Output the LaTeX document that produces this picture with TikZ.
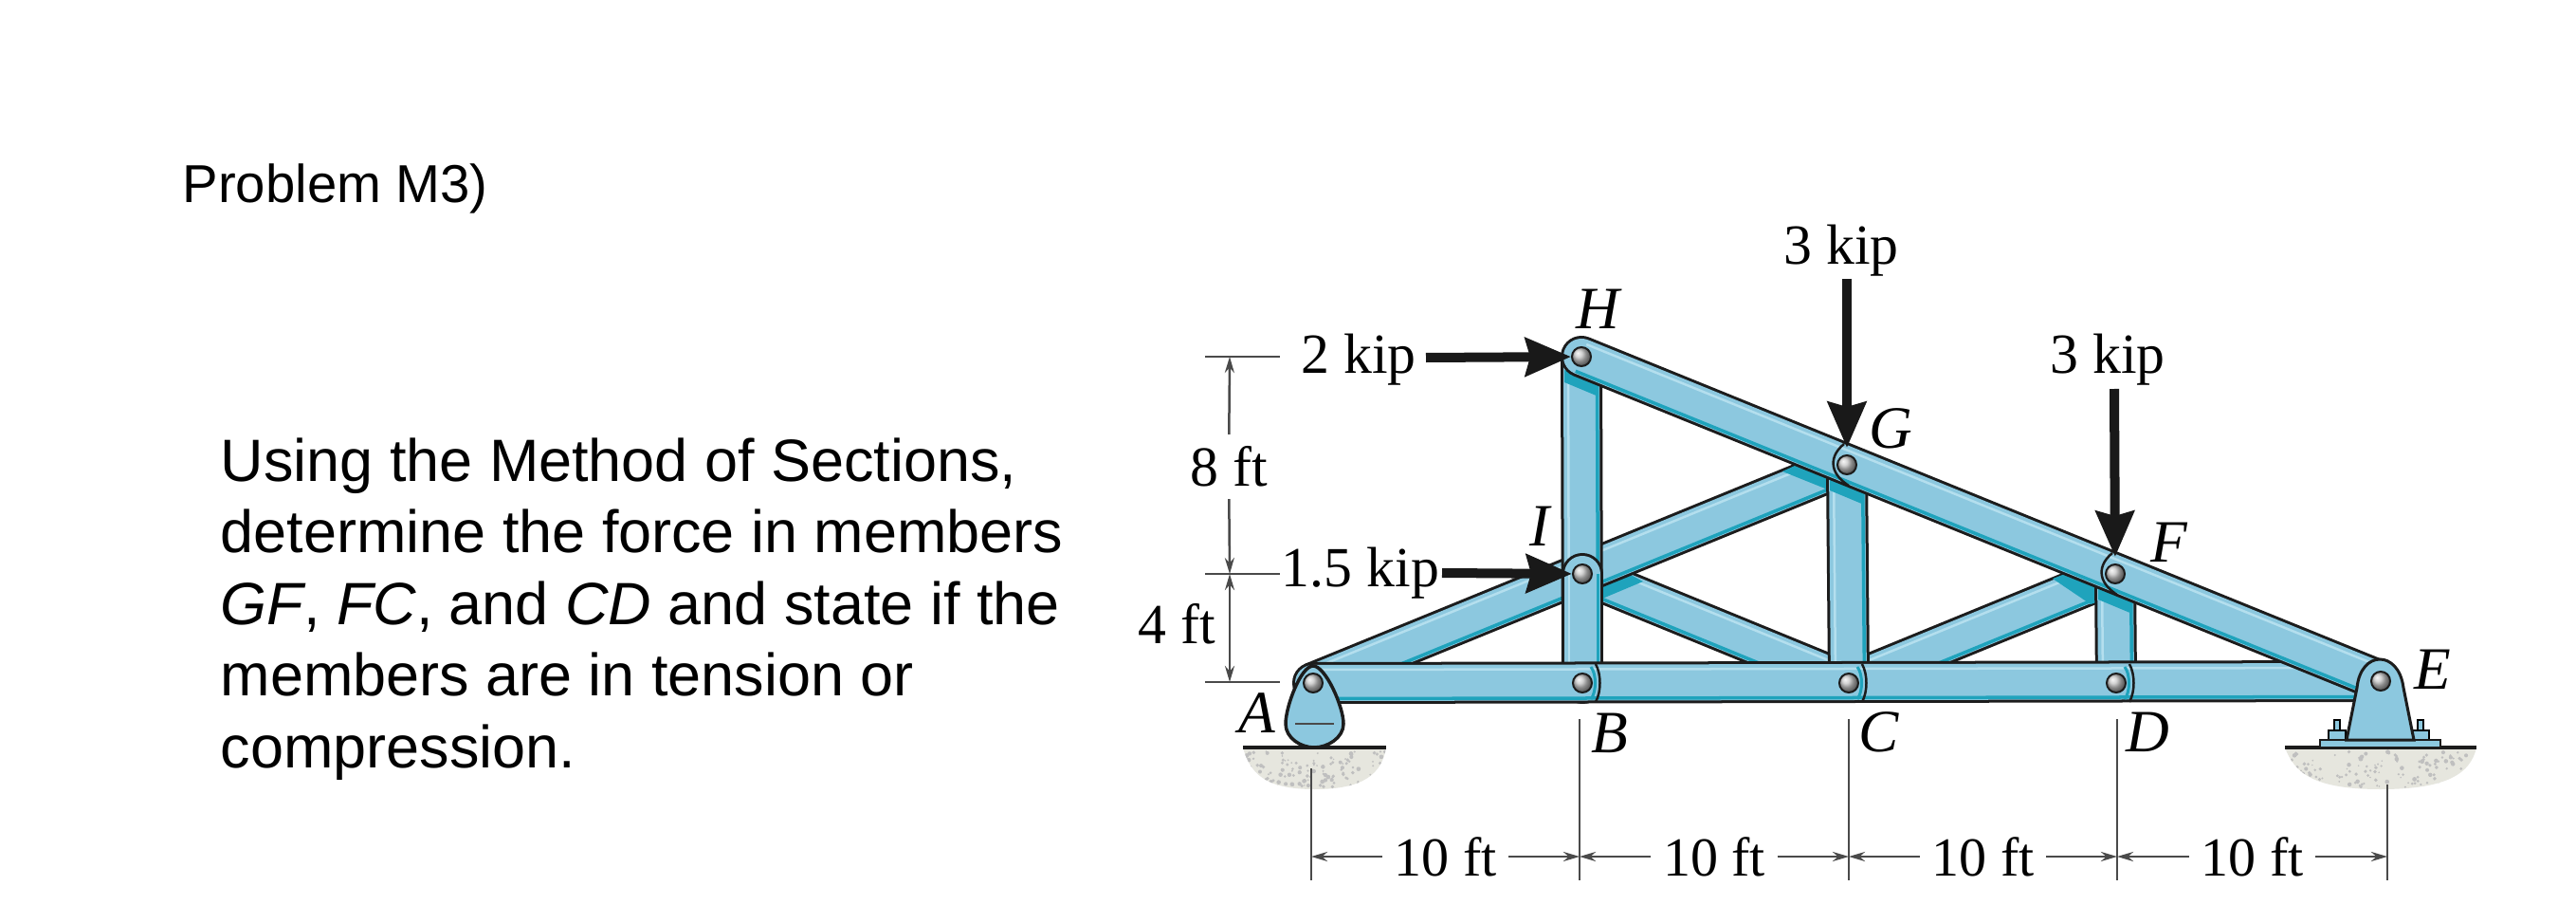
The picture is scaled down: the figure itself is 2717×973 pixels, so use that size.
\documentclass[tikz,border=0pt]{standalone}
\usepackage{fontspec}
\setmainfont{Liberation Sans}
\newfontfamily\labelfont{Liberation Serif}
\usetikzlibrary{arrows.meta,calc}

\definecolor{trussblue}{HTML}{8CC8DF}
\definecolor{trussdark}{HTML}{1FA3BC}
\definecolor{trusslight}{HTML}{B4DFEE}
\definecolor{edgeblack}{HTML}{1C1C1C}
\definecolor{dimgray}{HTML}{4A4A4A}
\definecolor{soil}{HTML}{E6E6DE}

% one truss bar: edges, fill, light and dark strip
\newcommand{\member}[3][]{
    \draw[barbody,#1] (#2) to (#3);
    \draw[barlight] ($(#2)!.14cm!90:(#3)$) to ($(#3)!.14cm!-90:(#2)$);
    \draw[bardark] ($(#2)!.165cm!-90:(#3)$) to ($(#3)!.165cm!90:(#2)$);
}

\begin{document}
\begin{tikzpicture}[x=0.01cm,y=-0.01cm,
    barbody/.style={draw=edgeblack,line width=.03cm,double=trussblue,double distance=.38cm},
    barlight/.style={draw=trusslight,line width=.025cm},
    bardark/.style={draw=trussdark,line width=.035cm},
    webshadow/.style={fill=trussdark},
    jointarc/.style={draw=edgeblack,line width=.025cm},
    jointlight/.style={draw=trussdark,line width=.03cm},
    pinball/.style={circle,draw=edgeblack,line width=.02cm,minimum size=.2cm,inner sep=0pt,ball color=gray!45},
    force/.style={draw=black!90,line width=.1cm,-{Stealth[length=.48cm,width=.4cm,inset=.05cm]}},
    dim/.style={draw=dimgray,line width=.025cm,-{Stealth[length=.17cm,width=.1cm]}},
    extline/.style={draw=dimgray,line width=.022cm},
    sizelabel/.style={font=\labelfont\fontsize{16.5}{18}\selectfont,inner sep=.12cm},
    kiplabel/.style={font=\labelfont\fontsize{17}{18}\selectfont,inner sep=0pt},
    pointlabel/.style={font=\labelfont\itshape\fontsize{18}{18}\selectfont,inner sep=0pt},
    problemtext/.style={font=\fontsize{17.9}{21.5}\selectfont,align=left,inner sep=0pt}]

    \useasboundingbox[fill=white] (0,0) rectangle (2717,973);

    \node[font=\fontsize{16}{18}\selectfont,anchor=west,inner sep=0pt] (title) at (192,199) {Problem M3)};
    \node[problemtext,anchor=west] (question) at (232,642) {Using the Method of Sections,\\determine the force in members\\\textit{GF}, \textit{FC}, and \textit{CD} and state if the\\members are in tension or\\compression.};

    \coordinate (A) at (1385,720);
    \coordinate (B) at (1669,720);
    \coordinate (C) at (1950,720);
    \coordinate (D) at (2232,720);
    \coordinate (E) at (2511,718);
    \coordinate (F) at (2231,605);
    \coordinate (G) at (1948,490);
    \coordinate (H) at (1668,376);
    \coordinate (I) at (1669,605);

    % ground under both supports
    \foreach \gx/\gw/\gs in {1311/151/3,2410/202/5}{
        \begin{scope}
            \path[clip] (\gx,788) -- ++(\gw,0) .. controls ({\gx+.97*\gw},815) and ({\gx+.85*\gw},832) .. ({\gx+.5*\gw},832) .. controls ({\gx+.15*\gw},832) and ({\gx+.05*\gw},815) .. (\gx,788) -- cycle;
            \fill[soil] (\gx-5,780) rectangle (\gx+\gw+5,840);
            \pgfmathsetseed{\gs}
            \foreach \s in {1,...,130}
                \fill[gray!50] ({\gx+rnd*\gw},{792+rnd*38}) circle ({.8+rnd*1.6});
        \end{scope}
        \draw[edgeblack,line width=.04cm] (\gx,788) -- ++(\gw,0);
    }

    % web first, chords on top
    \member{I}{C}
    \fill[webshadow] (1687,619) -- (1720,606) -- (1733,613) -- (1690,631) -- cycle;
    \member{A}{G}
    \member{C}{F}
    \fill[webshadow] (1895,490) -- (1930,504) -- (1930,517) -- (1880,497) -- cycle;
    \fill[webshadow] (2178,605) -- (2232,628) -- (2205,637) -- (2165,610) -- cycle;
    \member{B}{H}
    \member{C}{G}
    \member{D}{F}
    \member[line cap=round]{B}{I}
    \fill[webshadow] (1650,390) -- (1686,405) -- (1686,418) -- (1650,403) -- cycle;
    \fill[webshadow] (1930,504) -- (1966,519) -- (1966,532) -- (1930,517) -- cycle;
    \fill[webshadow] (2213,619) -- (2249,634) -- (2249,647) -- (2213,632) -- cycle;
    \member[line cap=round]{A}{E}
    \member[line cap=round]{H}{E}

    \foreach \j in {B,C,D}{
        \draw[jointlight] ([shift={(9,-17)}]\j) .. controls ([shift={(15,-9)}]\j) and ([shift={(15,9)}]\j) .. ([shift={(9,17)}]\j);
        \draw[jointarc] ([shift={(14,-20)}]\j) .. controls ([shift={(20,-9)}]\j) and ([shift={(20,9)}]\j) .. ([shift={(14,20)}]\j);
    }
    \foreach \j in {F,G}
        \draw[jointarc] ([shift={(-3,-22)}]\j) .. controls ([shift={(-18,-10)}]\j) and ([shift={(-20,8)}]\j) .. ([shift={(2,22)}]\j);

    % supports
    \foreach \bx in {2465,2553}{
        \draw[fill=trussblue,line width=.02cm] (\bx-3,759) rectangle (\bx+3,770);
        \draw[fill=trussblue,line width=.02cm] (\bx-9,770) rectangle (\bx+9,781);
    }
    \draw[fill=trussblue,draw=edgeblack,line width=.025cm] (2447,780) rectangle (2574,788);
    \draw[fill=trussblue,draw=edgeblack,line width=.03cm] (2475,780) -- (2486,725) .. controls (2490,685) and (2530,685) .. (2535,725) -- (2546,780) -- cycle;
    \draw[fill=trussblue,draw=edgeblack,line width=.035cm] (1385,702) .. controls (1398,702) and (1417,745) .. (1417,763) .. controls (1417,778) and (1400,788) .. (1386,788) .. controls (1372,788) and (1356,778) .. (1356,763) .. controls (1356,745) and (1372,702) .. (1385,702) -- cycle;
    \draw[draw=dimgray,line width=.025cm] (1366,763) -- (1407,763);

    \foreach \j in {A,B,C,D,E,F,G,H,I}
        \node[pinball] (pin\j) at (\j) {};

    % loads
    \coordinate (tailH) at (1504,377);
    \coordinate (tailI) at (1521,604);
    \coordinate (tailG) at (1948,294);
    \coordinate (tailF) at (2230,410);
    \draw[force] (tailH) -- (pinH);
    \draw[force] (tailI) -- (pinI);
    \draw[force,shorten >=.07cm] (tailG) -- (pinG);
    \draw[force,shorten >=.07cm] (tailF) -- (pinF);

    \node[kiplabel] (kipH) at (1433,379) {2 kip};
    \node[kiplabel] (kipI) at (1435,604) {1.5 kip};
    \node[kiplabel] (kipG) at (1942,264) {3 kip};
    \node[kiplabel] (kipF) at (2223,379) {3 kip};

    \node[pointlabel] (nameA) at (1326,752) {A};
    \node[pointlabel] (nameB) at (1698,773) {B};
    \node[pointlabel] (nameC) at (1982,772) {C};
    \node[pointlabel] (nameD) at (2265,772) {D};
    \node[pointlabel] (nameE) at (2566,706) {E};
    \node[pointlabel] (nameF) at (2288,572) {F};
    \node[pointlabel] (nameG) at (1994,452) {G};
    \node[pointlabel] (nameH) at (1685,326) {H};
    \node[pointlabel] (nameI) at (1624,555) {I};

    % horizontal dimensions
    \coordinate (spanA) at (1383,903);
    \coordinate (spanB) at (1666,903);
    \coordinate (spanC) at (1950,903);
    \coordinate (spanD) at (2233,903);
    \coordinate (spanE) at (2518,903);
    \foreach \p/\ytop in {A/810,B/758,C/758,D/758,E/827}
        \draw[extline] (span\p |- 0,\ytop) -- ([yshift=-.25cm]span\p);
    \foreach \p/\q in {A/B,B/C,C/D,D/E}{
        \node[sizelabel] (size\p) at ($(span\p)!.5!(span\q)$) {10 ft};
        \draw[dim] (size\p) -- (span\p);
        \draw[dim] (size\p) -- (span\q);
    }

    % vertical dimensions
    \coordinate (riseH) at (1297,376);
    \coordinate (riseI) at (1297,605);
    \coordinate (riseA) at (1297,719);
    \foreach \p in {H,I,A}
        \draw[extline] ([xshift=-.26cm]rise\p) -- ([xshift=.53cm]rise\p);
    \node[sizelabel,font=\labelfont\fontsize{17}{18}\selectfont] (sizeEight) at (1296,492) {8 ft};
    \node[sizelabel,font=\labelfont\fontsize{17}{18}\selectfont] (sizeFour) at (1241,658) {4 ft};
    \draw[dim] (sizeEight) -- (riseH);
    \draw[dim] (sizeEight) -- (riseI);
    \draw[dim,{Stealth[length=.17cm,width=.1cm]}-{Stealth[length=.17cm,width=.1cm]}] (riseI) -- (riseA);
\end{tikzpicture}
\end{document}
